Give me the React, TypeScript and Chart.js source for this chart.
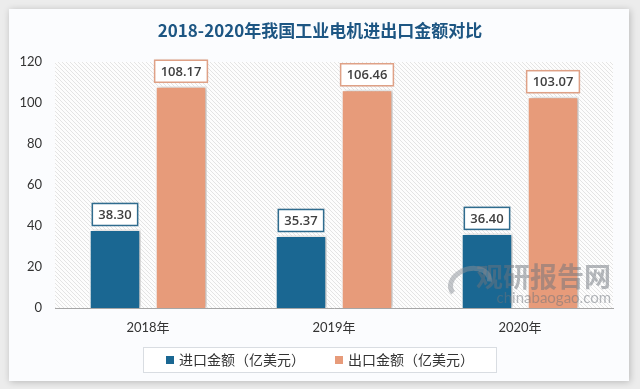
import React, { useEffect, useRef } from "react";
import { Chart, registerables } from "chart.js";

Chart.register(...registerables);

const titleText = "2018-2020年我国工业电机进出口金额对比";
const categories = ["2018年", "2019年", "2020年"];
const seriesNames = ["进口金额（亿美元）", "出口金额（亿美元）"];
const importValues = [38.3, 35.37, 36.4];
const exportValues = [108.17, 106.46, 103.07];
const yMin = 0;
const yMax = 120;
const yStep = 20;
const watermarkTexts = ["观研报告网", "chinabaogao.com"];

const seriesColors = ["#1a6792", "#e79b7a"];
const labelBorders = ["#2f6c8f", "#dfa186"];

const CJK = '"Noto Sans CJK SC", sans-serif';
const TICK_FONT = 'Lato, "Noto Sans CJK SC", sans-serif';

function makeHatch(): CanvasPattern | string {
  const c = document.createElement("canvas");
  c.width = 4;
  c.height = 4;
  const g = c.getContext("2d");
  if (!g) return "#f4f4f4";
  g.fillStyle = "#fdfdfd";
  g.fillRect(0, 0, 4, 4);
  g.strokeStyle = "#e4e4e4";
  g.lineWidth = 1;
  g.beginPath();
  g.moveTo(-1, -1);
  g.lineTo(5, 5);
  g.moveTo(-1, 3);
  g.lineTo(1, 5);
  g.moveTo(3, -1);
  g.lineTo(5, 1);
  g.stroke();
  const p = g.createPattern(c, "repeat");
  return p || "#f4f4f4";
}

const backgroundPlugin = {
  id: "cardBackground",
  beforeDraw(chart: any) {
    const ctx = chart.ctx as CanvasRenderingContext2D;
    const { width, height, chartArea } = chart;
    ctx.save();
    ctx.fillStyle = "#ececec";
    ctx.fillRect(0, 0, width, height);
    ctx.shadowColor = "rgba(0,0,0,0.22)";
    ctx.shadowBlur = 7;
    ctx.shadowOffsetX = 1;
    ctx.shadowOffsetY = 1;
    ctx.fillStyle = "#fbfcfe";
    ctx.fillRect(9, 9, 620, 372);
    ctx.restore();

    ctx.save();
    ctx.fillStyle = makeHatch();
    ctx.fillRect(chartArea.left, chartArea.top, chartArea.right - chartArea.left, chartArea.bottom - chartArea.top);
    ctx.restore();

    ctx.save();
    ctx.font = `bold 17px ${CJK}`;
    ctx.fillStyle = "#1d5683";
    ctx.textAlign = "center";
    ctx.textBaseline = "middle";
    ctx.fillText(titleText, width / 2, 31);
    ctx.restore();
  },
};

const barShadowPlugin = {
  id: "barShadow",
  beforeDatasetsDraw(chart: any) {
    const ctx = chart.ctx as CanvasRenderingContext2D;
    ctx.save();
    ctx.shadowColor = "rgba(0,0,0,0.28)";
    ctx.shadowBlur = 4;
    ctx.shadowOffsetX = 2;
    ctx.shadowOffsetY = 0;
  },
  afterDatasetsDraw(chart: any) {
    chart.ctx.restore();
  },
};

const valueLabelPlugin = {
  id: "valueLabels",
  afterDatasetsDraw(chart: any) {
    const ctx = chart.ctx as CanvasRenderingContext2D;
    ctx.save();
    ctx.font = `600 13px "Open Sans", sans-serif`;
    ctx.textAlign = "center";
    ctx.textBaseline = "middle";
    chart.data.datasets.forEach((ds: any, di: number) => {
      const meta = chart.getDatasetMeta(di);
      meta.data.forEach((bar: any, i: number) => {
        const text = Number(ds.data[i]).toFixed(2);
        const w = ctx.measureText(text).width + 12;
        const h = 22;
        const x = bar.x - w / 2;
        const y = bar.y - 4 - h;
        ctx.shadowColor = "rgba(0,0,0,0.15)";
        ctx.shadowBlur = 2;
        ctx.fillStyle = "#ffffff";
        ctx.fillRect(x, y, w, h);
        ctx.shadowColor = "transparent";
        ctx.strokeStyle = labelBorders[di];
        ctx.lineWidth = 1.5;
        ctx.strokeRect(x, y, w, h);
        ctx.fillStyle = "#404040";
        ctx.fillText(text, bar.x, y + h / 2 + 1);
      });
    });
    ctx.restore();
  },
};

const legendPlugin = {
  id: "boxLegend",
  afterDraw(chart: any) {
    const ctx = chart.ctx as CanvasRenderingContext2D;
    ctx.save();
    ctx.font = `14px ${CJK}`;
    const sq = 8;
    const gapSq = 5;
    const gapItems = 30;
    const widths = chart.data.datasets.map((d: any) => ctx.measureText(d.label).width);
    const total = widths.reduce((a: number, b: number) => a + b + sq + gapSq, 0) + gapItems * (widths.length - 1);
    const cx = 320;
    const cy = 360;
    const boxW = 354;
    const boxH = 26;
    ctx.fillStyle = "#ffffff";
    ctx.fillRect(cx - boxW / 2, cy - boxH / 2, boxW, boxH);
    ctx.strokeStyle = "#d9dde2";
    ctx.lineWidth = 1;
    ctx.strokeRect(cx - boxW / 2 + 0.5, cy - boxH / 2 + 0.5, boxW - 1, boxH - 1);
    let x = cx - total / 2;
    chart.data.datasets.forEach((d: any, i: number) => {
      ctx.fillStyle = d.backgroundColor;
      ctx.fillRect(x, cy - sq / 2, sq, sq);
      x += sq + gapSq;
      ctx.fillStyle = "#333333";
      ctx.textAlign = "left";
      ctx.textBaseline = "middle";
      ctx.fillText(d.label, x, cy);
      x += widths[i] + gapItems;
    });
    ctx.restore();

    // watermark over the plot
    ctx.save();
    ctx.globalAlpha = 0.5;
    ctx.fillStyle = "#6d747c";
    ctx.textAlign = "right";
    ctx.textBaseline = "middle";
    ctx.font = `bold 27px ${CJK}`;
    ctx.fillText(watermarkTexts[0], 611, 277);
    ctx.font = `15px Lato, sans-serif`;
    ctx.fillText(watermarkTexts[1], 611, 298);
    ctx.lineWidth = 5;
    ctx.strokeStyle = "#8a9097";
    ctx.beginPath();
    ctx.ellipse(470, 283, 20, 14, -0.3, Math.PI * 0.9, Math.PI * 2.1);
    ctx.stroke();
    ctx.restore();
  },
};

export default function App() {
  const ref = useRef<HTMLCanvasElement | null>(null);

  useEffect(() => {
    if (!ref.current) return;
    const chart = new Chart(ref.current, {
      type: "bar",
      data: {
        labels: categories,
        datasets: [
          {
            label: seriesNames[0],
            data: importValues,
            backgroundColor: seriesColors[0],
            borderColor: "#ffffff",
            borderWidth: 1.5,
            categoryPercentage: 0.71,
            barPercentage: 0.78,
          },
          {
            label: seriesNames[1],
            data: exportValues,
            backgroundColor: seriesColors[1],
            borderColor: "#ffffff",
            borderWidth: 1.5,
            categoryPercentage: 0.71,
            barPercentage: 0.78,
          },
        ],
      },
      options: {
        animation: false,
        responsive: false,
        maintainAspectRatio: false,
        layout: { padding: { left: 0, right: 27, top: 62, bottom: 51 } },
        plugins: {
          legend: { display: false },
          title: { display: false },
          tooltip: { enabled: false },
        },
        scales: {
          x: {
            grid: { display: false, drawTicks: false },
            border: { display: true, color: "#a6a6a6", width: 1 },
            ticks: {
              color: "#333333",
              font: { size: 13, family: TICK_FONT },
              padding: 12,
            },
            afterFit(scale: any) {
              scale.height = 30;
            },
          },
          y: {
            min: yMin,
            max: yMax,
            grid: { display: false, drawTicks: false },
            border: { display: false },
            ticks: {
              stepSize: yStep,
              color: "#333333",
              font: { size: 13, family: TICK_FONT },
              padding: 13,
            },
            afterFit(scale: any) {
              scale.width = 55;
            },
          },
        },
      },
      plugins: [backgroundPlugin, barShadowPlugin, valueLabelPlugin, legendPlugin],
    });
    return () => chart.destroy();
  }, []);

  return (
    <div style={{ position: "absolute", left: 0, top: 0, width: 640, height: 389 }}>
      <canvas ref={ref} width={640} height={389} style={{ display: "block", width: 640, height: 389 }} />
    </div>
  );
}
